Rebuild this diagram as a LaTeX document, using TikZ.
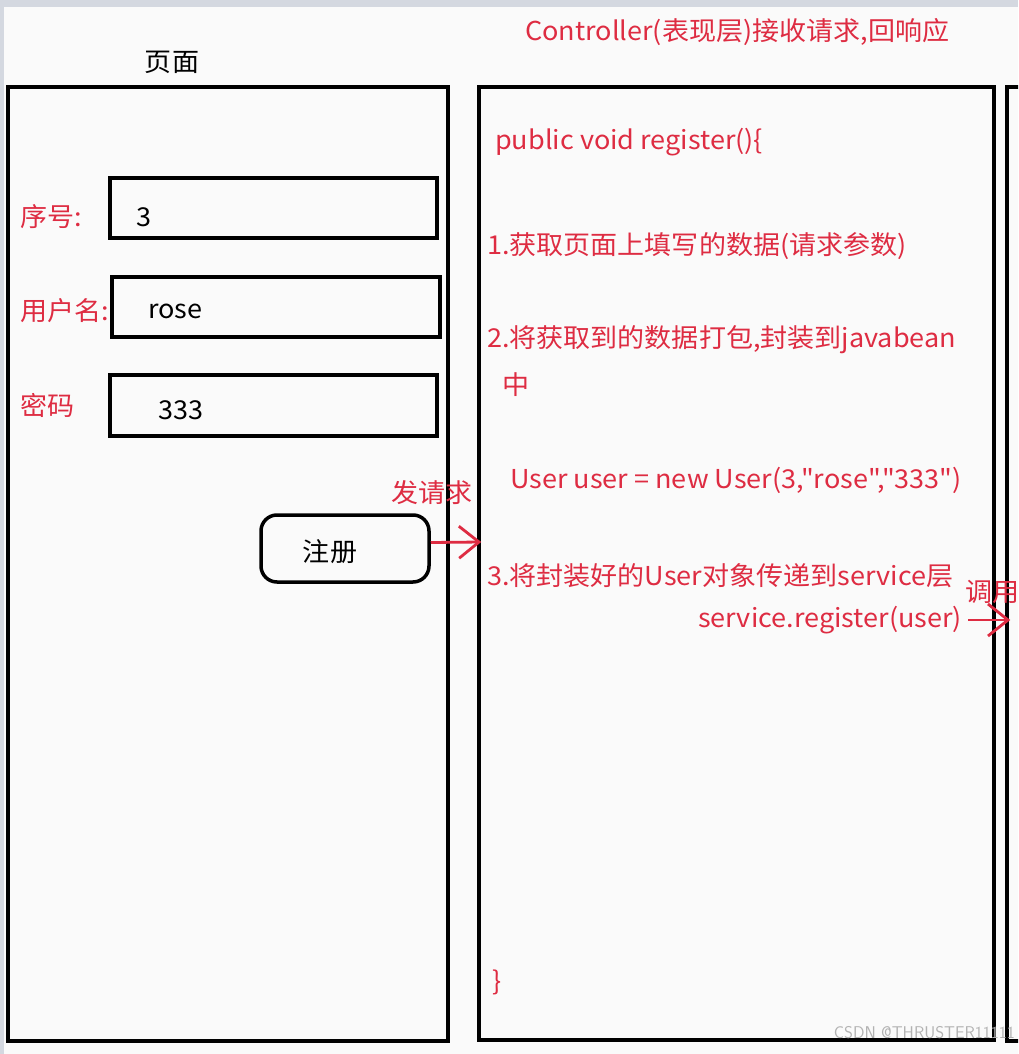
\documentclass[tikz,border=0pt]{standalone}
\usepackage{fontspec}
\newfontfamily\cjk{Noto Sans CJK SC}[FakeStretch=1.04]
\usetikzlibrary{positioning, arrows.meta}
\definecolor{inkred}{RGB}{222,44,66}
\definecolor{paper}{RGB}{250,250,250}
\definecolor{frame}{RGB}{212,216,224}
\definecolor{mark}{RGB}{178,178,178}

\begin{document}
\begin{tikzpicture}[x=1pt, y=-1pt]
	\tikzset{
		panel/.style={draw, line width=3.5pt, inner sep=0pt},
		field/.style={draw, line width=3.5pt, inner sep=0pt, minimum height=60pt},
		button/.style={draw, line width=3.5pt, rounded corners=16pt, inner sep=0pt},
		redtext/.style={text=inkred, font=\cjk\fontsize{26}{30}\selectfont, inner sep=0pt},
		blacktext/.style={font=\cjk\fontsize{26}{30}\selectfont, inner sep=0pt},
		callarrow/.style={
			draw=inkred,
			line width=2.8pt,
			-{Straight Barb[length=20pt, width=32pt, line width=2.8pt]}
		},
	}

	% page size and background
	\clip (0,0) rectangle (1018,1054);
	\fill[paper] (0,0) rectangle (1018,1054);
	\fill[frame] (0,0) rectangle (1018,7);
	\fill[frame] (0,0) rectangle (4,1054);

	% the three columns
	\node[panel, minimum width=440pt, minimum height=954pt] (page) at (228,564) {};
	\node[panel, minimum width=515pt, minimum height=953pt] (ctrl) at (736.5,563.5) {};
	\node[panel, minimum width=100pt, minimum height=954pt] (service) at (1057,564) {};

	\node[blacktext] (pagetitle) at (172,62) {页面};
	\node[redtext, anchor=west] (ctrltitle) at (525,32) {Controller(表现层)接收请求,回响应};

	% form on the page
	\node[field, minimum width=327pt] (idbox) at (273.5,208) {};
	\node[field, minimum width=328pt] (namebox) at (276,307) {};
	\node[field, minimum width=327pt, minimum height=61pt] (pwdbox) at (273.5,405.5) {};

	\node[redtext, anchor=west] (idlabel) at (20,217) {序号:};
	\node[redtext, anchor=west] (namelabel) at (20,311) {用户名:};
	\node[redtext, anchor=west] (pwdlabel) at (20,405) {密码};

	\node[blacktext, anchor=west] (idvalue) at (136,217) {3};
	\node[blacktext, anchor=west] (namevalue) at (148,311) {rose};
	\node[blacktext, anchor=west] (pwdvalue) at (158,410) {333};

	\node[button, minimum width=168pt, minimum height=67pt] (submit) at (345,548.5) {};
	\node[blacktext] (submitlabel) at (330,552) {注册};

	% controller steps
	\node[redtext, anchor=west] (signature) at (495,142) {public void register()\{};
	\node[redtext, anchor=west] (step1) at (487,246) {1.获取页面上填写的数据(请求参数)};
	\node[redtext, anchor=west] (step2) at (487,340) {2.将获取到的数据打包,封装到javabean};
	\node[redtext, anchor=west] (step2b) at (502,385) {中};
	\node[redtext, anchor=west] (newuser) at (510,480) {User user = new User(3,"rose","333")};
	\node[redtext, anchor=west] (step3) at (487,576) {3.将封装好的User对象传递到service层};
	\node[redtext, anchor=east] (servicecall) at (962,620) {service.register(user)};
	\node[redtext, anchor=west] (closing) at (492,982) {\}};

	% requests
	\draw[callarrow] ([yshift=6pt]submit.east) -- ([xshift=4pt]ctrl.west |- 0,542);
	\node[redtext] (request) at (432,493) {发请求};
	\draw[callarrow] ([xshift=6pt]servicecall.east) -- ([xshift=5pt]service.west |- servicecall.east);
	\node[redtext, anchor=west] (invoke) at (965,592) {调用};

	\node[text=mark, font=\fontsize{17}{20}\selectfont\sffamily, anchor=east, inner sep=0pt] (credit) at (1015,1033) {CSDN @THRUSTER11111};
\end{tikzpicture}
\end{document}
